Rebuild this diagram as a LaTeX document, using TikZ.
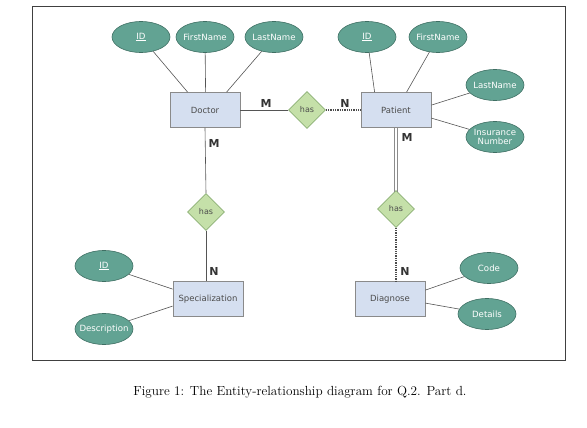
\documentclass[tikz,border=0pt]{standalone}
\usepackage{fontspec}
\setsansfont{DejaVu Sans}
\usetikzlibrary{shapes.geometric}
\definecolor{attrfill}{HTML}{62A393}
\definecolor{attrdraw}{HTML}{3E6F63}
\definecolor{entfill}{HTML}{D5DFF0}
\definecolor{entdraw}{HTML}{8A8A8A}
\definecolor{relfill}{HTML}{C5E0A9}
\definecolor{reldraw}{HTML}{8CAF75}
\definecolor{lncol}{HTML}{555555}
\definecolor{dblcol}{HTML}{8C8C8C}
\tikzset{
  attr/.style={ellipse, fill=attrfill, draw=attrdraw, line width=0.6pt, minimum width=58pt, minimum height=31pt, inner xsep=-8pt, inner ysep=0pt, text=white, font=\sffamily\fontsize{8.6}{9.2}\selectfont, align=center},
  ent/.style={rectangle, fill=entfill, draw=entdraw, line width=0.8pt, minimum width=70pt, minimum height=35pt, inner sep=0pt, text=black!70, font=\sffamily\fontsize{8.5}{9.5}\selectfont},
  rel/.style={diamond, fill=relfill, draw=reldraw, line width=0.6pt, minimum width=37pt, minimum height=37pt, inner sep=0pt, text=black!70, font=\sffamily\fontsize{8}{9}\selectfont},
  conn/.style={draw=lncol, line width=0.6pt},
  card/.style={font=\sffamily\bfseries\fontsize{11}{12}\selectfont, text=black!80, inner sep=0pt},
  dotline/.style={draw=black!70, line width=1.3pt, densely dotted},
  dblside/.style={draw=dblcol, line width=0.8pt}
}
\begin{document}
\begin{tikzpicture}[x=1pt,y=-1pt]
\useasboundingbox (0,0) rectangle (587,428);
\draw[draw=black!75, line width=0.8pt] (32,6) rectangle (565,360);
% entities
\node[ent] (doc) at (205,110) {Doctor};
\node[ent] (pat) at (396,110) {Patient};
\node[ent] (spec) at (208,299) {Specialization};
\node[ent] (diag) at (390,299) {Diagnose};
% relationships
\node[rel] (r1) at (307,110) {has};
\node[rel] (r2) at (206,212) {has};
\node[rel] (r3) at (396,209) {has};
% attributes
\node[attr] (did) at (141,37) {\underline{ID}};
\node[attr] (dfn) at (205,37) {FirstName};
\node[attr] (dln) at (274,37) {LastName};
\node[attr] (pid) at (367,37) {\underline{ID}};
\node[attr] (pfn) at (438,37) {FirstName};
\node[attr] (pln) at (495,85) {LastName};
\node[attr] (pin) at (495,137) {Insurance\\[0.5pt]Number};
\node[attr] (sid) at (104,266) {\underline{ID}};
\node[attr] (sde) at (104,329) {Description};
\node[attr] (dco) at (489,268) {Code};
\node[attr] (dde) at (487,314) {Details};
% attribute lines
\draw[conn] (did) -- ([xshift=18pt]doc.north west);
\draw[conn] (dfn) -- ([xshift=36pt]doc.north west);
\draw[conn] (dln) -- ([xshift=57pt]doc.north west);
\draw[conn] (pid) -- ([xshift=14pt]pat.north west);
\draw[conn] (pfn) -- ([xshift=46pt]pat.north west);
\draw[conn] (pln) -- ([yshift=-13pt]pat.north east);
\draw[conn] (pin) -- ([yshift=-26pt]pat.north east);
\draw[conn] (sid) -- ([yshift=-8pt]spec.north west);
\draw[conn] (sde) -- ([yshift=-25pt]spec.north west);
\draw[conn] (dco) -- ([yshift=-9pt]diag.north east);
\draw[conn] (dde) -- ([yshift=-22pt]diag.north east);
% relationship lines
\draw[conn] (doc.east) -- (r1.west);
\draw[dotline] (r1.east) -- (pat.west);
\draw[conn] (doc.south) -- (r2.north);
\draw[conn] (r2.south) -- (r2.south |- spec.north);
\draw[dblside] ([xshift=-1.3pt]pat.south) -- ([xshift=-1.3pt,yshift=-1.5pt]r3.north);
\draw[dblside] ([xshift=1.3pt]pat.south) -- ([xshift=1.3pt,yshift=-1.5pt]r3.north);
\draw[dotline] (r3.south) -- (r3.south |- diag.north);
% cardinalities
\node[card] (c1) at (266,103) {M};
\node[card] (c2) at (345,103) {N};
\node[card] (c3) at (214,143) {M};
\node[card] (c4) at (214,271) {N};
\node[card] (c5) at (407,137) {M};
\node[card] (c6) at (405,271) {N};
% caption
\node[font=\fontsize{13.2}{15}\selectfont, inner sep=0pt] (cap) at (300,392) {Figure 1: The Entity-relationship diagram for Q.2. Part d.};
\end{tikzpicture}
\end{document}
